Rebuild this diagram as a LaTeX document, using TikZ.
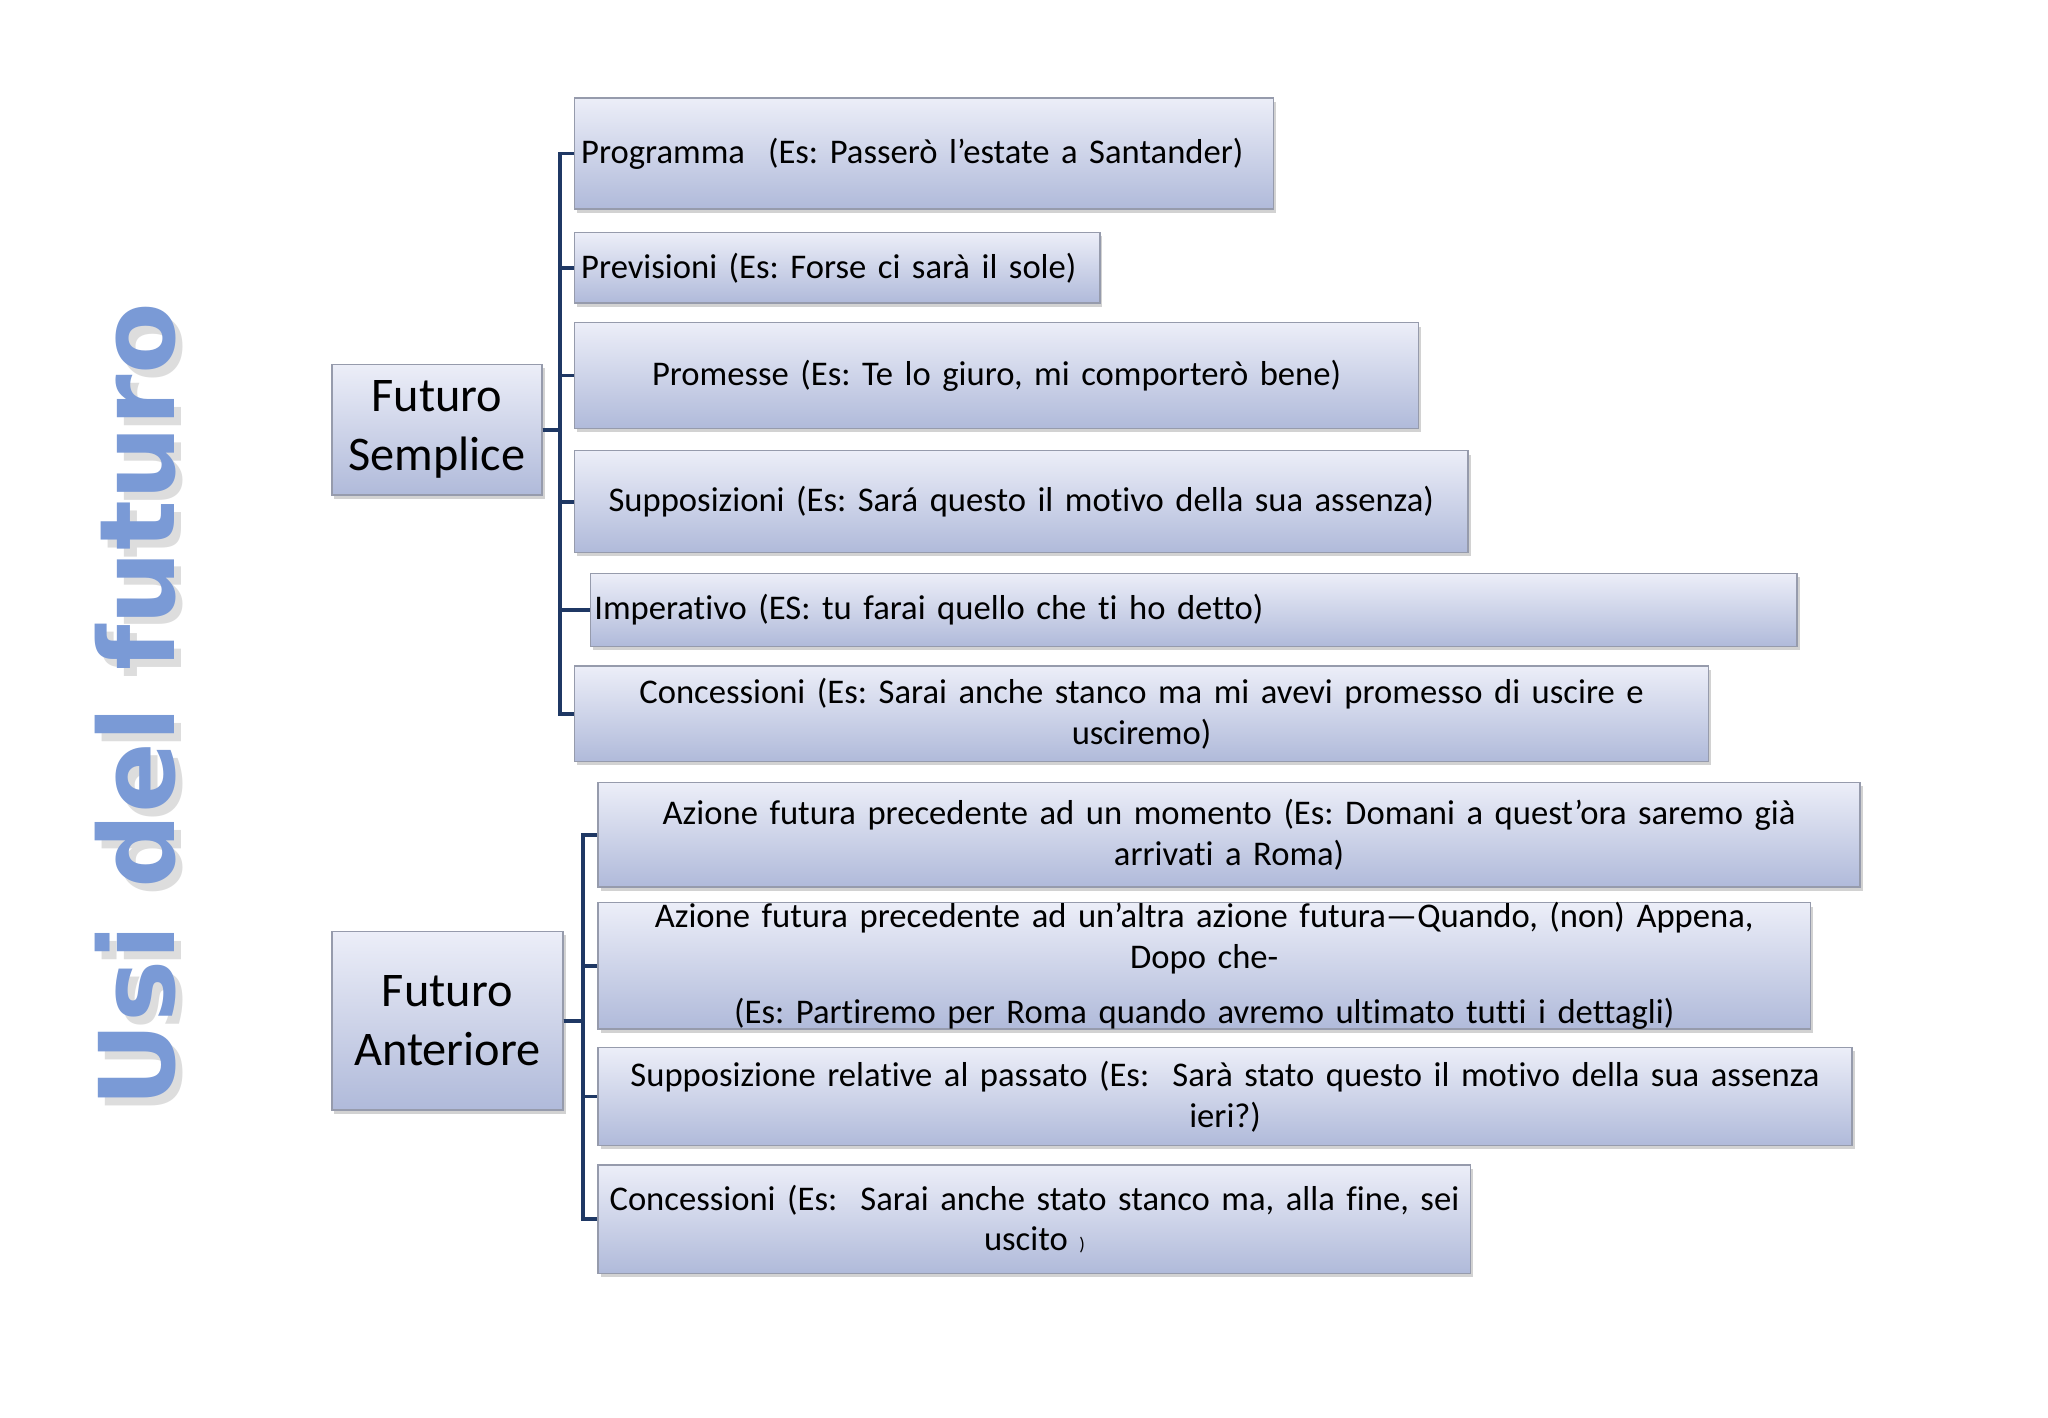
\documentclass[tikz,border=0pt]{standalone}
\usepackage{fontspec}
\setmainfont{Carlito}[Ligatures={NoCommon,NoRare}]
\newfontfamily\titlefont{DejaVu Sans}
\usetikzlibrary{shadows}
\definecolor{boxedge}{RGB}{150,155,172}
\definecolor{boxtop}{RGB}{236,238,248}
\definecolor{boxbot}{RGB}{176,186,218}
\definecolor{conncol}{RGB}{31,56,100}
\definecolor{titlecol}{RGB}{122,154,214}
\tikzset{
  box/.style={draw=boxedge, line width=1.2pt, top color=boxtop, bottom color=boxbot,
    drop shadow={shadow xshift=2pt, shadow yshift=-3pt, opacity=0.35},
    inner sep=0pt, font=\frenchspacing\fontsize{26.5}{31}\selectfont, align=center},
  conn/.style={draw=conncol, line width=3pt}
}
\newcommand{\bx}[6]{%
  \pgfmathsetmacro{\bxw}{#4-#2}%
  \pgfmathsetmacro{\bxh}{#5-#3}%
  \pgfmathsetmacro{\bxt}{#4-#2-10}%
  \pgfmathsetmacro{\bxx}{(#2+#4)/2}%
  \pgfmathsetmacro{\bxy}{(#3+#5)/2}%
  \node[box, minimum width=\bxw pt, minimum height=\bxh pt, text width=\bxt pt, #6] (#1) at (\bxx,\bxy)}
\begin{document}
\begin{tikzpicture}[x=1pt,y=-1pt]
\useasboundingbox (0,0) rectangle (1568,1085);
\fill[white] (0,0) rectangle (1568,1085);
\node[rotate=90, font=\titlefont\bfseries\fontsize{80}{80}\selectfont, text=black!22, opacity=0.6] at (109,546) {Usi del futuro};
\node[rotate=90, font=\titlefont\bfseries\fontsize{80}{80}\selectfont, text=titlecol] (title) at (104,540) {Usi del futuro};

\bx{fs}{254}{279}{415}{379}{font=\fontsize{37}{45}\selectfont}{Futuro\\Semplice};
\bx{fa}{254}{713}{431}{850}{font=\fontsize{37}{45}\selectfont}{Futuro\\Anteriore};

\bx{b1}{440}{75}{975}{160}{align=left}{Programma\ \ (Es: Passerò l’estate a Santander)};
\bx{b2}{440}{178}{842}{232}{align=left}{Previsioni (Es: Forse ci sarà il sole)};
\bx{b3}{440}{247}{1086}{328}{}{Promesse (Es: Te lo giuro, mi comporterò bene)};
\bx{b4}{440}{345}{1124}{423}{}{Supposizioni (Es: Sará questo il motivo della sua assenza)};
\bx{b5}{452}{439}{1376}{495}{align=left, text width=918pt}{Imperativo (ES: tu farai quello che ti ho detto)};
\bx{b6}{440}{510}{1308}{583}{}{Concessioni (Es: Sarai anche stanco ma mi avevi promesso di uscire e\\usciremo)};
\bx{b7}{458}{599}{1424}{679}{}{Azione futura precedente ad un momento (Es: Domani a quest’ora saremo già\\arrivati a Roma)};
\bx{b8}{458}{694}{1386}{785}{}{Azione futura precedente ad un’altra azione futura—Quando, (non) Appena,\\Dopo che-\\[11pt](Es: Partiremo per Roma quando avremo ultimato tutti i dettagli)};
\bx{b9}{458}{802}{1418}{877}{}{Supposizione relative al passato (Es:\ \ Sarà stato questo il motivo della sua assenza\\ieri?)};
\bx{b10}{458}{892}{1126}{975}{}{Concessioni (Es:\ \ Sarai anche stato stanco ma, alla fine, sei\\uscito {\fontsize{14}{14}\selectfont)}};

\foreach \b in {b1,b2,b3,b4,b5,b6}{
  \draw[conn] (fs.east) -- ++(13,0) |- (\b.west);
}
\foreach \b in {b7,b8,b9,b10}{
  \draw[conn] (fa.east) -- ++(15,0) |- (\b.west);
}
\end{tikzpicture}
\end{document}
